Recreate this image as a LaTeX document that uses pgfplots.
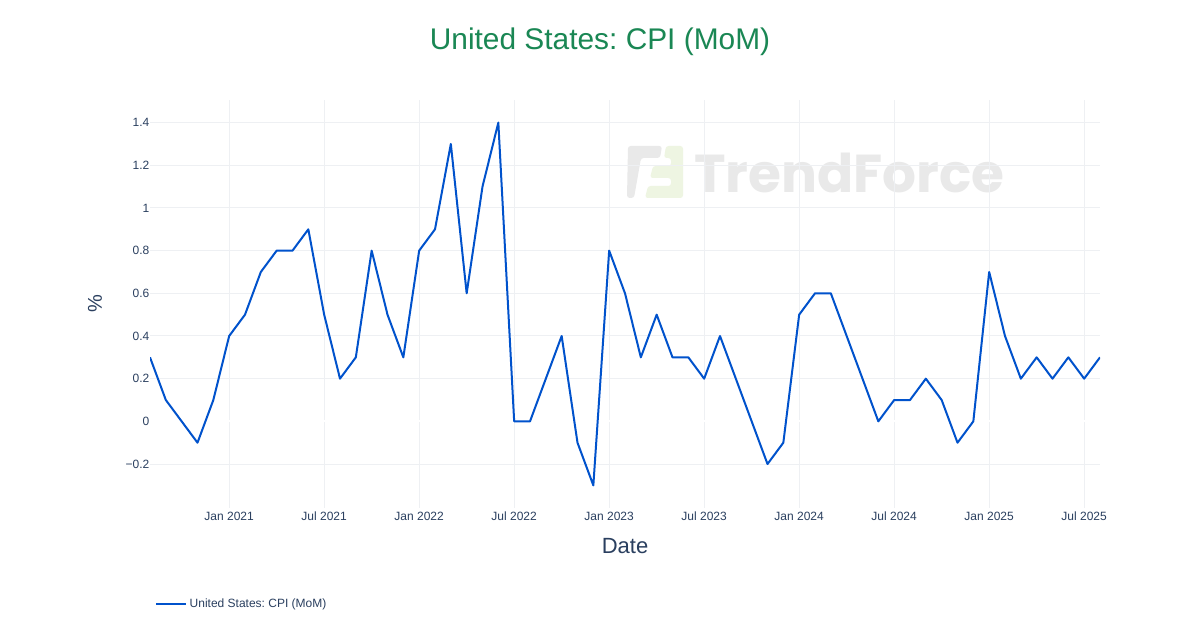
\documentclass[border=0pt]{standalone}
\usepackage{pgfplots}
\pgfplotsset{compat=1.18}
\usepackage{fontspec}
\setmainfont{Liberation Sans}
\newfontfamily\wmfont{Poppins}
\frenchspacing
\definecolor{cpiblue}{HTML}{0052CC}
\definecolor{titlegreen}{HTML}{1A8754}
\definecolor{axtext}{HTML}{2A3F5F}
\definecolor{gridc}{HTML}{EEF0F3}
\definecolor{wmgray}{HTML}{E9E9E9}
\definecolor{wmgreen}{HTML}{EEF5E2}
\pgfplotstableread{
m v
-5 0.3
-4 0.1
-3 0.0
-2 -0.1
-1 0.1
0 0.4
1 0.5
2 0.7
3 0.8
4 0.8
5 0.9
6 0.5
7 0.2
8 0.3
9 0.8
10 0.5
11 0.3
12 0.8
13 0.9
14 1.3
15 0.6
16 1.1
17 1.4
18 0.0
19 0.0
20 0.2
21 0.4
22 -0.1
23 -0.3
24 0.8
25 0.6
26 0.3
27 0.5
28 0.3
29 0.3
30 0.2
31 0.4
32 0.2
33 0.0
34 -0.2
35 -0.1
36 0.5
37 0.6
38 0.6
39 0.4
40 0.2
41 0.0
42 0.1
43 0.1
44 0.2
45 0.1
46 -0.1
47 0.0
48 0.7
49 0.4
50 0.2
51 0.3
52 0.2
53 0.3
54 0.2
55 0.3
}\cpidata
\begin{document}
\begin{tikzpicture}
\path[fill=white] (0,0) rectangle (900pt,472.5pt);
\begin{scope}[x=0.75pt,y=-0.75pt,shift={(0pt,472.5pt)}]
  \fill[wmgray, rounded corners=2pt] (628,146) -- (662,146) -- (660,158) -- (641,158) -- (634,198) -- (627,198) -- cycle;
  \fill[wmgreen, rounded corners=2pt] (666,146) -- (683,146) -- (683,198) -- (645,198) -- (648,186) -- (671,186) -- (671,178) -- (650,178) -- (653,166) -- (671,166) -- (671,158) -- (664,158) -- cycle;
  \node[anchor=base west, inner sep=0pt, text=wmgray, font=\wmfont\bfseries\fontsize{40}{44}\selectfont] at (694,193) {TrendForce};
\end{scope}
\begin{axis}[
  at={(112.5pt,91.5pt)}, anchor=south west,
  scale only axis, width=712.5pt, height=306pt,
  xmin=-5, xmax=55, ymin=-0.406, ymax=1.506,
  xtick={0,6,12,18,24,30,36,42,48,54},
  xticklabels={Jan 2021,Jul 2021,Jan 2022,Jul 2022,Jan 2023,Jul 2023,Jan 2024,Jul 2024,Jan 2025,Jul 2025},
  ytick={-0.2,0,0.2,0.4,0.6,0.8,1,1.2,1.4},
  yticklabels={−0.2,0,0.2,0.4,0.6,0.8,1,1.2,1.4},
  grid=major, major grid style={draw=gridc, line width=0.75pt},
  axis line style={draw=none}, major tick length=0pt,
  tick label style={font=\fontsize{9}{10}\selectfont, text=axtext},
  yticklabel style={xshift=3pt},
  xticklabel style={yshift=0.5pt},
  title={United States: CPI (MoM)},
  title style={at={(axis description cs:0.4737,1.1225)}, anchor=center, font=\fontsize{22.4}{26}\selectfont, text=titlegreen},
  xlabel={Date},
  xlabel style={at={(axis description cs:0.5,-0.093)}, anchor=center, font=\fontsize{16.5}{18}\selectfont, text=axtext},
  ylabel={\%},
  ylabel style={at={(axis description cs:-0.058,0.5)}, anchor=center, rotate=0, font=\fontsize{15}{18}\selectfont, text=axtext},
  legend style={at={(axis description cs:0.005,-0.2355)}, anchor=west, draw=none, fill=none, inner sep=0pt, font=\fontsize{9}{10}\selectfont, text=axtext, legend cell align=left},
  legend image code/.code={\draw[#1] (0pt,0pt) -- (22.5pt,0pt);},
]
\draw[white, line width=1.5pt] (axis cs:-5,0) -- (axis cs:55,0);
\addplot[cpiblue, line width=1.5pt, line join=round] table[x=m, y=v] {\cpidata};
\addlegendentry{United States: CPI (MoM)}
\end{axis}
\end{tikzpicture}
\end{document}
